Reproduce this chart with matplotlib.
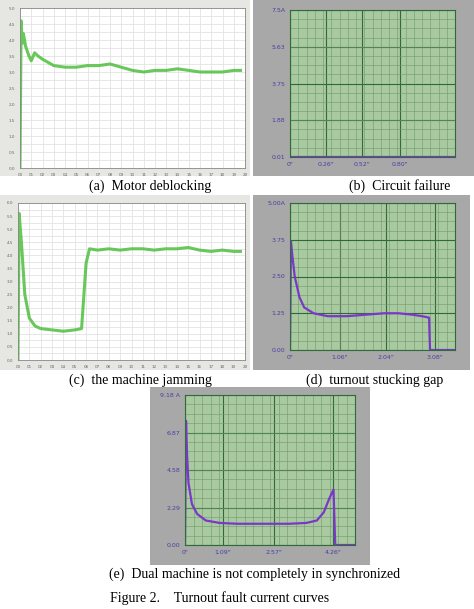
import matplotlib
matplotlib.use("Agg")
import matplotlib.pyplot as plt
import numpy as np

W, H = 474, 609
fig = plt.figure(figsize=(W/100, H/100), dpi=100)
fig.patch.set_facecolor("white")

# ---- data ----
a_t = [0, 0.1, 0.2, 0.3, 0.5, 0.8, 1.0, 1.3, 1.6, 2, 3, 4, 5, 6, 7, 8, 9, 10, 11, 12, 13, 14, 15, 16, 17, 18, 19, 19.6]
a_i = [0, 4.6, 3.9, 4.2, 3.8, 3.5, 3.35, 3.6, 3.5, 3.4, 3.2, 3.15, 3.15, 3.2, 3.2, 3.25, 3.15, 3.05, 3.0, 3.05, 3.05, 3.1, 3.05, 3.0, 3.0, 3.0, 3.05, 3.05]
c_t = [0, 0.1, 0.3, 0.6, 1.0, 1.5, 2, 3, 4, 5, 5.6, 6.0, 6.3, 7, 8, 9, 10, 11, 12, 13, 14, 15, 16, 17, 18, 19, 19.6]
c_i = [0, 5.6, 4.5, 2.5, 1.6, 1.3, 1.2, 1.15, 1.1, 1.15, 1.2, 3.7, 4.25, 4.2, 4.25, 4.2, 4.25, 4.25, 4.2, 4.25, 4.25, 4.3, 4.2, 4.15, 4.2, 4.15, 4.15]
d_t = [0, 0.02, 0.05, 0.1, 0.2, 0.3, 0.5, 0.8, 1.2, 1.6, 2.0, 2.3, 2.6, 2.8, 2.95, 2.97, 3.5]
d_i = [0, 3.7, 3.2, 2.5, 1.8, 1.45, 1.25, 1.15, 1.15, 1.2, 1.25, 1.25, 1.2, 1.15, 1.1, 0.0, 0.0]
e_t = [0, 0.03, 0.06, 0.1, 0.2, 0.35, 0.6, 1.0, 1.5, 2.0, 2.5, 3.0, 3.5, 3.8, 4.0, 4.15, 4.28, 4.33, 4.9]
e_i = [0, 7.6, 5.5, 3.8, 2.5, 1.9, 1.5, 1.35, 1.3, 1.3, 1.3, 1.3, 1.35, 1.5, 2.0, 2.8, 3.4, 0.0, 0.0]
b_t = [0, 1.2]
b_i = [0.01, 0.01]

def px(x, y, w, h):
    return [x/W, 1-(y+h)/H, w/W, h/H]

def bg(x, y, w, h, c):
    a = fig.add_axes(px(x, y, w, h)); a.set_axis_off()
    a.add_patch(plt.Rectangle((0, 0), 1, 1, color=c, transform=a.transAxes))

def white_panel(rect, t, i, xmax, ymax, col):
    ax = fig.add_axes(px(*rect))
    ax.set_facecolor("white")
    ax.plot(t, i, color=col, lw=2.2, alpha=0.85)
    ax.set_xlim(0, xmax); ax.set_ylim(0, ymax)
    ax.set_xticks(np.arange(0, xmax+0.01, 1))
    ax.set_yticks(np.arange(0, ymax+0.01, 0.25))
    ax.grid(True, color="#e3e3e3", lw=0.6)
    ax.tick_params(labelsize=3, length=0, colors="#666")
    ax.set_xticklabels([f"{v:02d}" for v in range(0, int(xmax)+1)], fontsize=3)
    ax.set_yticklabels(["" if k % 2 else f"{v:.1f}" for k, v in enumerate(np.arange(0, ymax+0.01, 0.25))], fontsize=3)
    for s in ax.spines.values(): s.set_color("#888"); s.set_linewidth(0.6)

def green_panel(rect, t, i, xmax, ymax, yticks, ylabels, xticks, xlabels):
    ax = fig.add_axes(px(*rect))
    ax.set_facecolor("#a9c9a0")
    ax.plot(t, i, color="#7a38c8", lw=1.6)
    ax.set_xlim(0, xmax); ax.set_ylim(0, ymax)
    ax.set_xticks(np.linspace(0, xmax, 21), minor=True)
    ax.set_yticks(np.linspace(0, ymax, 17), minor=True)
    ax.set_xticks(xticks); ax.set_xticklabels(xlabels)
    ax.set_yticks(yticks); ax.set_yticklabels(ylabels)
    ax.grid(True, which="minor", color="#6f9a6b", lw=0.4)
    ax.grid(True, which="major", color="#2f6a3a", lw=0.8)
    ax.tick_params(which="both", labelsize=4.5, length=0, colors="#4a3fa0")
    for s in ax.spines.values(): s.set_color("#2f6a3a")
    return ax

# (a)
bg(0, 0, 250, 176, "#e6e6e2")
white_panel((20, 8, 225, 160), a_t, a_i, 20, 5.0, "#4fbf3f")
# (b)
bg(253, 0, 221, 176, "#a8a8a8")
green_panel((290, 10, 165, 147), b_t, b_i, 1.2, 7.5, [0.01, 1.88, 3.75, 5.63, 7.5],
            ["0.01", "1.88", "3.75", "5.63", "7.5A"], [0, 0.26, 0.52, 0.8], ['0"', '0.26"', '0.52"', '0.80"'])
# (c)
bg(0, 195, 250, 175, "#e6e6e2")
white_panel((18, 203, 227, 157), c_t, c_i, 20, 6.0, "#4fbf3f")
# (d)
bg(253, 195, 217, 175, "#a8a8a8")
green_panel((290, 203, 165, 147), d_t, d_i, 3.5, 5.0, [0, 1.25, 2.5, 3.75, 5.0],
            ["0.00", "1.25", "2.50", "3.75", "5.00A"], [0, 1.06, 2.04, 3.08], ['0"', '1.06"', '2.04"', '3.08"'])
# (e)
bg(150, 387, 220, 178, "#a8a8a8")
green_panel((185, 395, 170, 150), e_t, e_i, 4.9, 9.18, [0, 2.29, 4.58, 6.87, 9.18],
            ["0.00", "2.29", "4.58", "6.87", "9.18 A"], [0, 1.09, 2.57, 4.26], ['0"', '1.09"', '2.57"', '4.26"'])

cap = dict(fontsize=10, family="Liberation Serif", ha="center", va="center")
fig.text(150/W, 1-186/H, "(a)  Motor deblocking", **cap)
fig.text(400/W, 1-186/H, "(b)  Circuit failure", **cap)
fig.text(140/W, 1-380/H, "(c)  the machine jamming", **cap)
fig.text(375/W, 1-380/H, "(d)  turnout stucking gap", **cap)
fig.text(255/W, 1-574/H, "(e)  Dual machine is not completely in synchronized", **cap)
fig.text(220/W, 1-598/H, "Figure 2.    Turnout fault current curves", **cap)

fig.savefig("out.png", dpi=100)
